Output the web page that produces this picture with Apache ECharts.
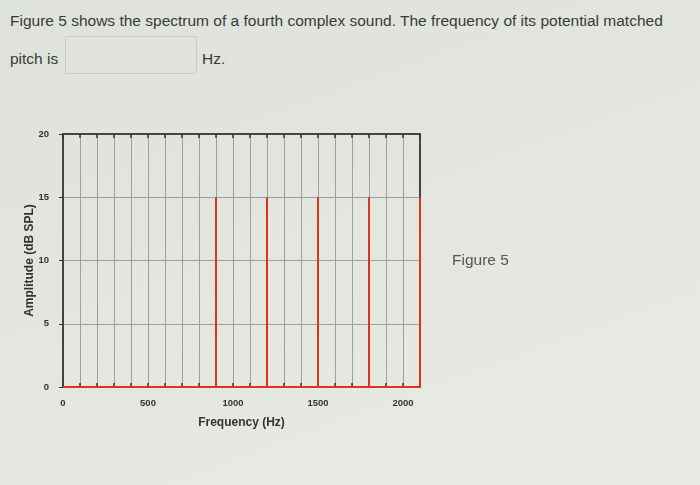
<!DOCTYPE html>
<html>
<head>
<meta charset="utf-8">
<script src="https://cdn.jsdelivr.net/npm/echarts@6/dist/echarts.min.js"></script>
<style>
  body { margin: 0; }
  #page {
    position: relative; width: 700px; height: 485px; overflow: hidden;
    font-family: "Liberation Sans", Arial, sans-serif; color: #3a3a3a;
    background: linear-gradient(160deg, #dde2db 0%, #e3e6df 45%, #e9eae5 100%);
  }
  .txt { position: absolute; font-size: 15.5px; white-space: nowrap; }
  #box { position: absolute; left: 65px; top: 36px; width: 130px; height: 36px;
         border: 1px solid #c8ccc6; border-radius: 2px; }
  #main { position: absolute; left: 0; top: 0; width: 700px; height: 485px; }
</style>
</head>
<body>
<div id="page">
  <div class="txt" style="left:10px; top:12px;">Figure 5 shows the spectrum of a fourth complex sound. The frequency of its potential matched</div>
  <div class="txt" style="left:10px; top:50px;">pitch is</div>
  <div id="box"></div>
  <div class="txt" style="left:202px; top:50px;">Hz.</div>
  <div id="main"></div>
</div>
<script>
    // spectrum components
    var freqs = [900, 1200, 1500, 1800, 2100];
    var amps = [15, 15, 15, 15, 15];
    var xTicks = [0, 500, 1000, 1500, 2000];
    var yTicks = [0, 5, 10, 15, 20];

    // line spectrum: baseline at 0 with a spike at each component
    var pts = [[0, 0]];
    for (var i = 0; i < freqs.length; i++) {
        pts.push([freqs[i], 0]);
        pts.push([freqs[i], amps[i]]);
        if (i < freqs.length - 1) pts.push([freqs[i], 0]);
    }

    var myChart = echarts.init(document.getElementById('main'));
    var labelFont = {fontFamily: 'Liberation Sans', fontSize: 9.5, fontWeight: 'bold', color: '#333'};
    var nameFont = {fontFamily: 'Liberation Sans', fontSize: 12, fontWeight: 'bold', color: '#333'};

    var option = {
        animation: false,
        grid: {left: 63, right: 280, top: 134, bottom: 98},
        graphic: [{
            type: 'text', left: 452, top: 253,
            style: {text: 'Figure 5', fontFamily: 'Liberation Sans', fontSize: 15.5, fill: '#555'}
        }],
        xAxis: [{
            type: 'value', min: 0, max: 2100, interval: 100,
            name: 'Frequency (Hz)', nameLocation: 'middle', nameGap: 30, nameMoveOverlap: false,
            nameTextStyle: nameFont,
            axisLine: {show: true, onZero: false, lineStyle: {color: '#444', width: 2}},
            axisTick: {show: true, inside: true, length: 4, lineStyle: {color: '#333', width: 1.5}},
            axisLabel: Object.assign({margin: 11, formatter: function (v) {
                return xTicks.indexOf(v) >= 0 ? v : '';
            }}, labelFont),
            splitLine: {show: true, lineStyle: {color: '#9ba29b', width: 1}}
        }, {
            type: 'value', position: 'top', min: 0, max: 2100, interval: 100,
            axisLine: {show: true, onZero: false, lineStyle: {color: '#444', width: 2}},
            axisTick: {show: true, inside: true, length: 4, lineStyle: {color: '#333', width: 1.5}},
            axisLabel: {show: false}, splitLine: {show: false}
        }],
        yAxis: [{
            type: 'value', min: 0, max: 20, interval: 5,
            name: 'Amplitude (dB SPL)', nameLocation: 'middle', nameGap: 27, nameMoveOverlap: false,
            nameTextStyle: nameFont,
            axisLine: {show: true, onZero: false, lineStyle: {color: '#444', width: 2}},
            axisTick: {show: true, length: 4, lineStyle: {color: '#333'}},
            axisLabel: Object.assign({margin: 14, formatter: function (v) {
                return yTicks.indexOf(v) >= 0 ? v : '';
            }}, labelFont),
            splitLine: {show: true, lineStyle: {color: '#9ba29b', width: 1}}
        }, {
            type: 'value', position: 'right', min: 0, max: 20, interval: 5,
            axisLine: {show: true, onZero: false, lineStyle: {color: '#444', width: 2}},
            axisTick: {show: false}, axisLabel: {show: false}, splitLine: {show: false}
        }],
        series: [{
            name: 'spectrum',
            type: 'line',
            data: pts,
            symbol: 'none',
            lineStyle: {color: '#e0321f', width: 2},
            z: 5
        }]
    };

    myChart.setOption(option);
</script>
</body>
</html>
